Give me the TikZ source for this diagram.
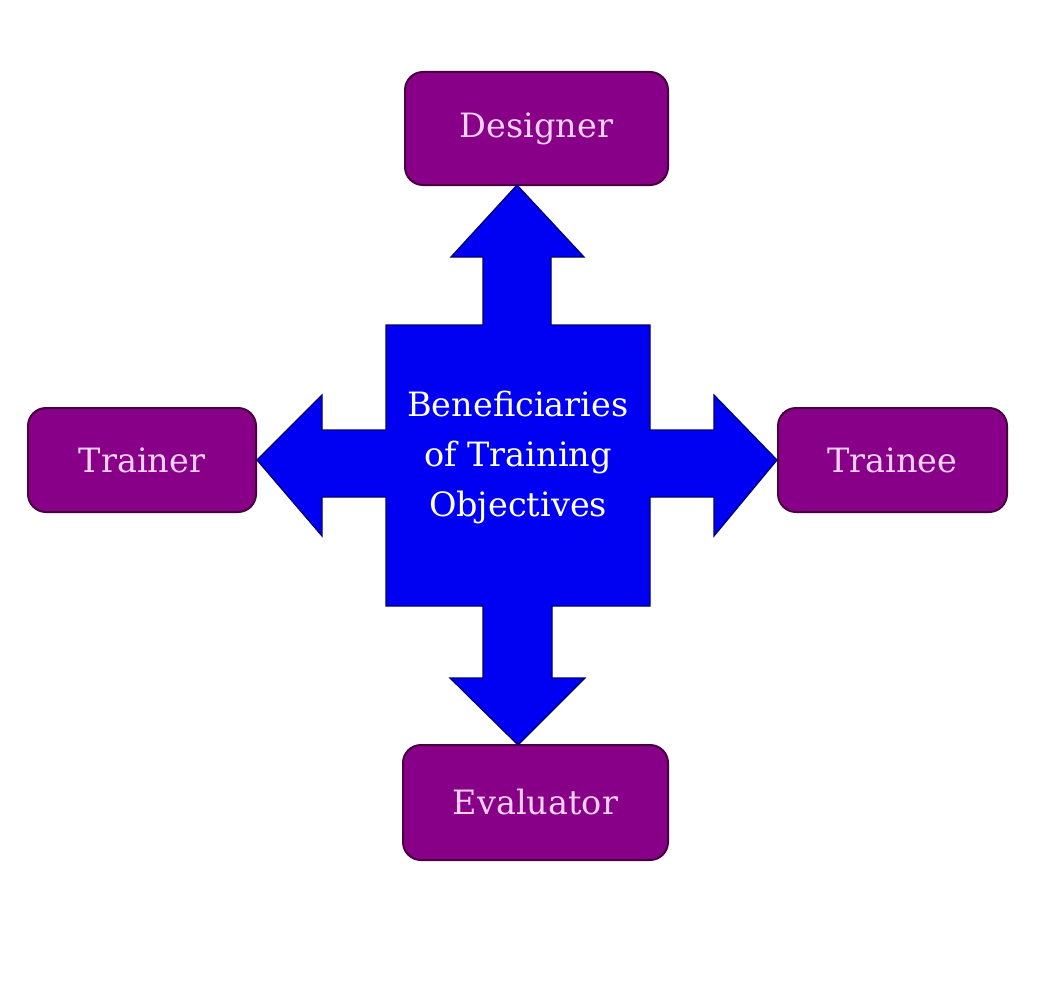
\documentclass[tikz,border=0pt]{standalone}
\usepackage{fontspec}
\setmainfont{DejaVu Serif}
\definecolor{boxfill}{HTML}{880088}
\definecolor{boxedge}{HTML}{4A0040}
\definecolor{boxtext}{HTML}{FAD2F8}
\definecolor{crossfill}{HTML}{0000F2}
\definecolor{crossedge}{HTML}{000070}
\begin{document}
\begin{tikzpicture}[x=1pt,y=-1pt,
  rolebox/.style={draw=boxedge,line width=2pt,fill=boxfill,rounded corners=18pt,
    text=boxtext,font=\fontsize{33.5}{38}\selectfont,inner sep=0pt,anchor=center},
  crossshape/.style={fill=crossfill,draw=crossedge,line width=1.2pt,line join=miter},
  centertext/.style={text=white,align=center,font=\fontsize{33.5}{50}\selectfont}]
\useasboundingbox[fill=white] (0,0) rectangle (1042,982);
% role boxes
\node[rolebox,minimum width=263pt,minimum height=113pt] (designer) at (536.5,128.5) {\raisebox{3pt}{Designer}};
\node[rolebox,minimum width=228pt,minimum height=104pt] (trainer) at (142,460) {Trainer};
\node[rolebox,minimum width=229pt,minimum height=104pt] (trainee) at (892.5,460) {Trainee};
\node[rolebox,minimum width=265pt,minimum height=115pt] (evaluator) at (535.5,802.5) {Evaluator};
% cross with four arrows (tips touch the boxes)
\coordinate (uptip) at (517,185);
\coordinate (lefttip) at (trainer.east);
\coordinate (righttip) at (trainee.west);
\coordinate (downtip) at (518,745);
\draw[crossshape]
  (uptip) -- (584,257) -- (551,257) -- (551,325) -- (650,325) -- (650,430)
  -- (714,430) -- (714,395) -- (righttip) -- (714,536) -- (714,497) -- (650,497)
  -- (650,606) -- (552,606) -- (552,678) -- (585,678) -- (downtip)
  -- (450,678) -- (483,678) -- (483,606) -- (386,606) -- (386,497)
  -- (322,497) -- (322,536) -- (lefttip) -- (322,395) -- (322,430)
  -- (386,430) -- (386,325) -- (483,325) -- (483,257) -- (451,257) -- cycle;
\node[centertext] (center) at (518,457) {Beneficiaries\\of Training\\Objectives};
\end{tikzpicture}
\end{document}
